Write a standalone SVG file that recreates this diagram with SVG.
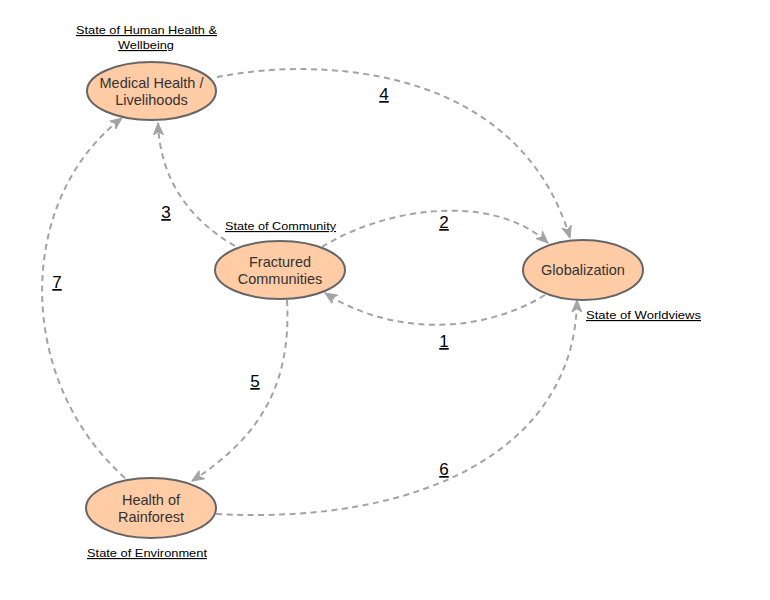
<svg xmlns="http://www.w3.org/2000/svg" width="770" height="600" viewBox="0 0 770 600">
  <style>
    .node ellipse { fill: #ffcca6; stroke: #666666; stroke-width: 2; }
    .node text { font-family: "Liberation Sans", "DejaVu Sans", sans-serif; font-size: 14.5px; fill: #333333; text-anchor: middle; }
    .edge { fill: none; stroke: #a3a3a3; stroke-width: 2; stroke-dasharray: 6 4.5; }
    .num { font-family: "Liberation Sans", "DejaVu Sans", sans-serif; font-size: 17px; fill: #000000; text-anchor: middle; text-decoration: underline; }
    .note { font-family: "Liberation Sans", "DejaVu Sans", sans-serif; font-size: 11.5px; fill: #000000; text-decoration: underline; }
  </style>
  <defs>
    <marker id="arrow" markerUnits="userSpaceOnUse" markerWidth="14" markerHeight="12" viewBox="0 0 14 12" refX="12" refY="6" orient="auto">
      <path d="M0,1 L12,6 L0,11 L3.5,6 Z" fill="#a3a3a3" stroke="#a3a3a3" stroke-width="1"/>
    </marker>
  </defs>
  <rect width="770" height="600" fill="#ffffff"/>

  <g id="connectors">
    <path id="edge4" class="edge" marker-end="url(#arrow)" d="M217,77 C330,55 520,70 570,238"/>
    <path id="edge2" class="edge" marker-end="url(#arrow)" d="M322,247 C380,210 490,190 548,243"/>
    <path id="edge1" class="edge" marker-end="url(#arrow)" d="M545,295 C480,335 390,335 325,293"/>
    <path id="edge3" class="edge" marker-end="url(#arrow)" d="M235,246 C190,220 160,180 158,123"/>
    <path id="edge7" class="edge" marker-end="url(#arrow)" d="M125,478 C15,380 15,200 122,118"/>
    <path id="edge5" class="edge" marker-end="url(#arrow)" d="M287,300 C292,390 255,440 192,481"/>
    <path id="edge6" class="edge" marker-end="url(#arrow)" d="M216,514 C420,525 575,450 577,300"/>
    <text class="num" x="384" y="100">4</text>
    <text class="num" x="444" y="228">2</text>
    <text class="num" x="444" y="347">1</text>
    <text class="num" x="166" y="218">3</text>
    <text class="num" x="57" y="288">7</text>
    <text class="num" x="255" y="387">5</text>
    <text class="num" x="444" y="475">6</text>
  </g>

  <g id="node-medical" class="node">
    <ellipse cx="151.5" cy="91" rx="64.5" ry="29"/>
    <text x="151.5" y="88">Medical Health /</text>
    <text x="151.5" y="105">Livelihoods</text>
  </g>
  <g id="node-fractured" class="node">
    <ellipse cx="280" cy="270" rx="65" ry="29"/>
    <text x="280" y="267">Fractured</text>
    <text x="280" y="284">Communities</text>
  </g>
  <g id="node-globalization" class="node">
    <ellipse cx="583" cy="270" rx="60" ry="30"/>
    <text x="583" y="275">Globalization</text>
  </g>
  <g id="node-rainforest" class="node">
    <ellipse cx="151" cy="508" rx="65" ry="30"/>
    <text x="151" y="505">Health of</text>
    <text x="151" y="522">Rainforest</text>
  </g>

  <g id="annotations">
    <text class="note" x="76" y="34" textLength="141" lengthAdjust="spacingAndGlyphs">State of Human Health &amp;</text>
    <text class="note" x="118" y="49" textLength="56" lengthAdjust="spacingAndGlyphs">Wellbeing</text>
    <text class="note" x="225" y="230" textLength="111" lengthAdjust="spacingAndGlyphs">State of Community</text>
    <text class="note" x="586" y="319" textLength="115" lengthAdjust="spacingAndGlyphs">State of Worldviews</text>
    <text class="note" x="87" y="557" textLength="120" lengthAdjust="spacingAndGlyphs">State of Environment</text>
  </g>
</svg>
